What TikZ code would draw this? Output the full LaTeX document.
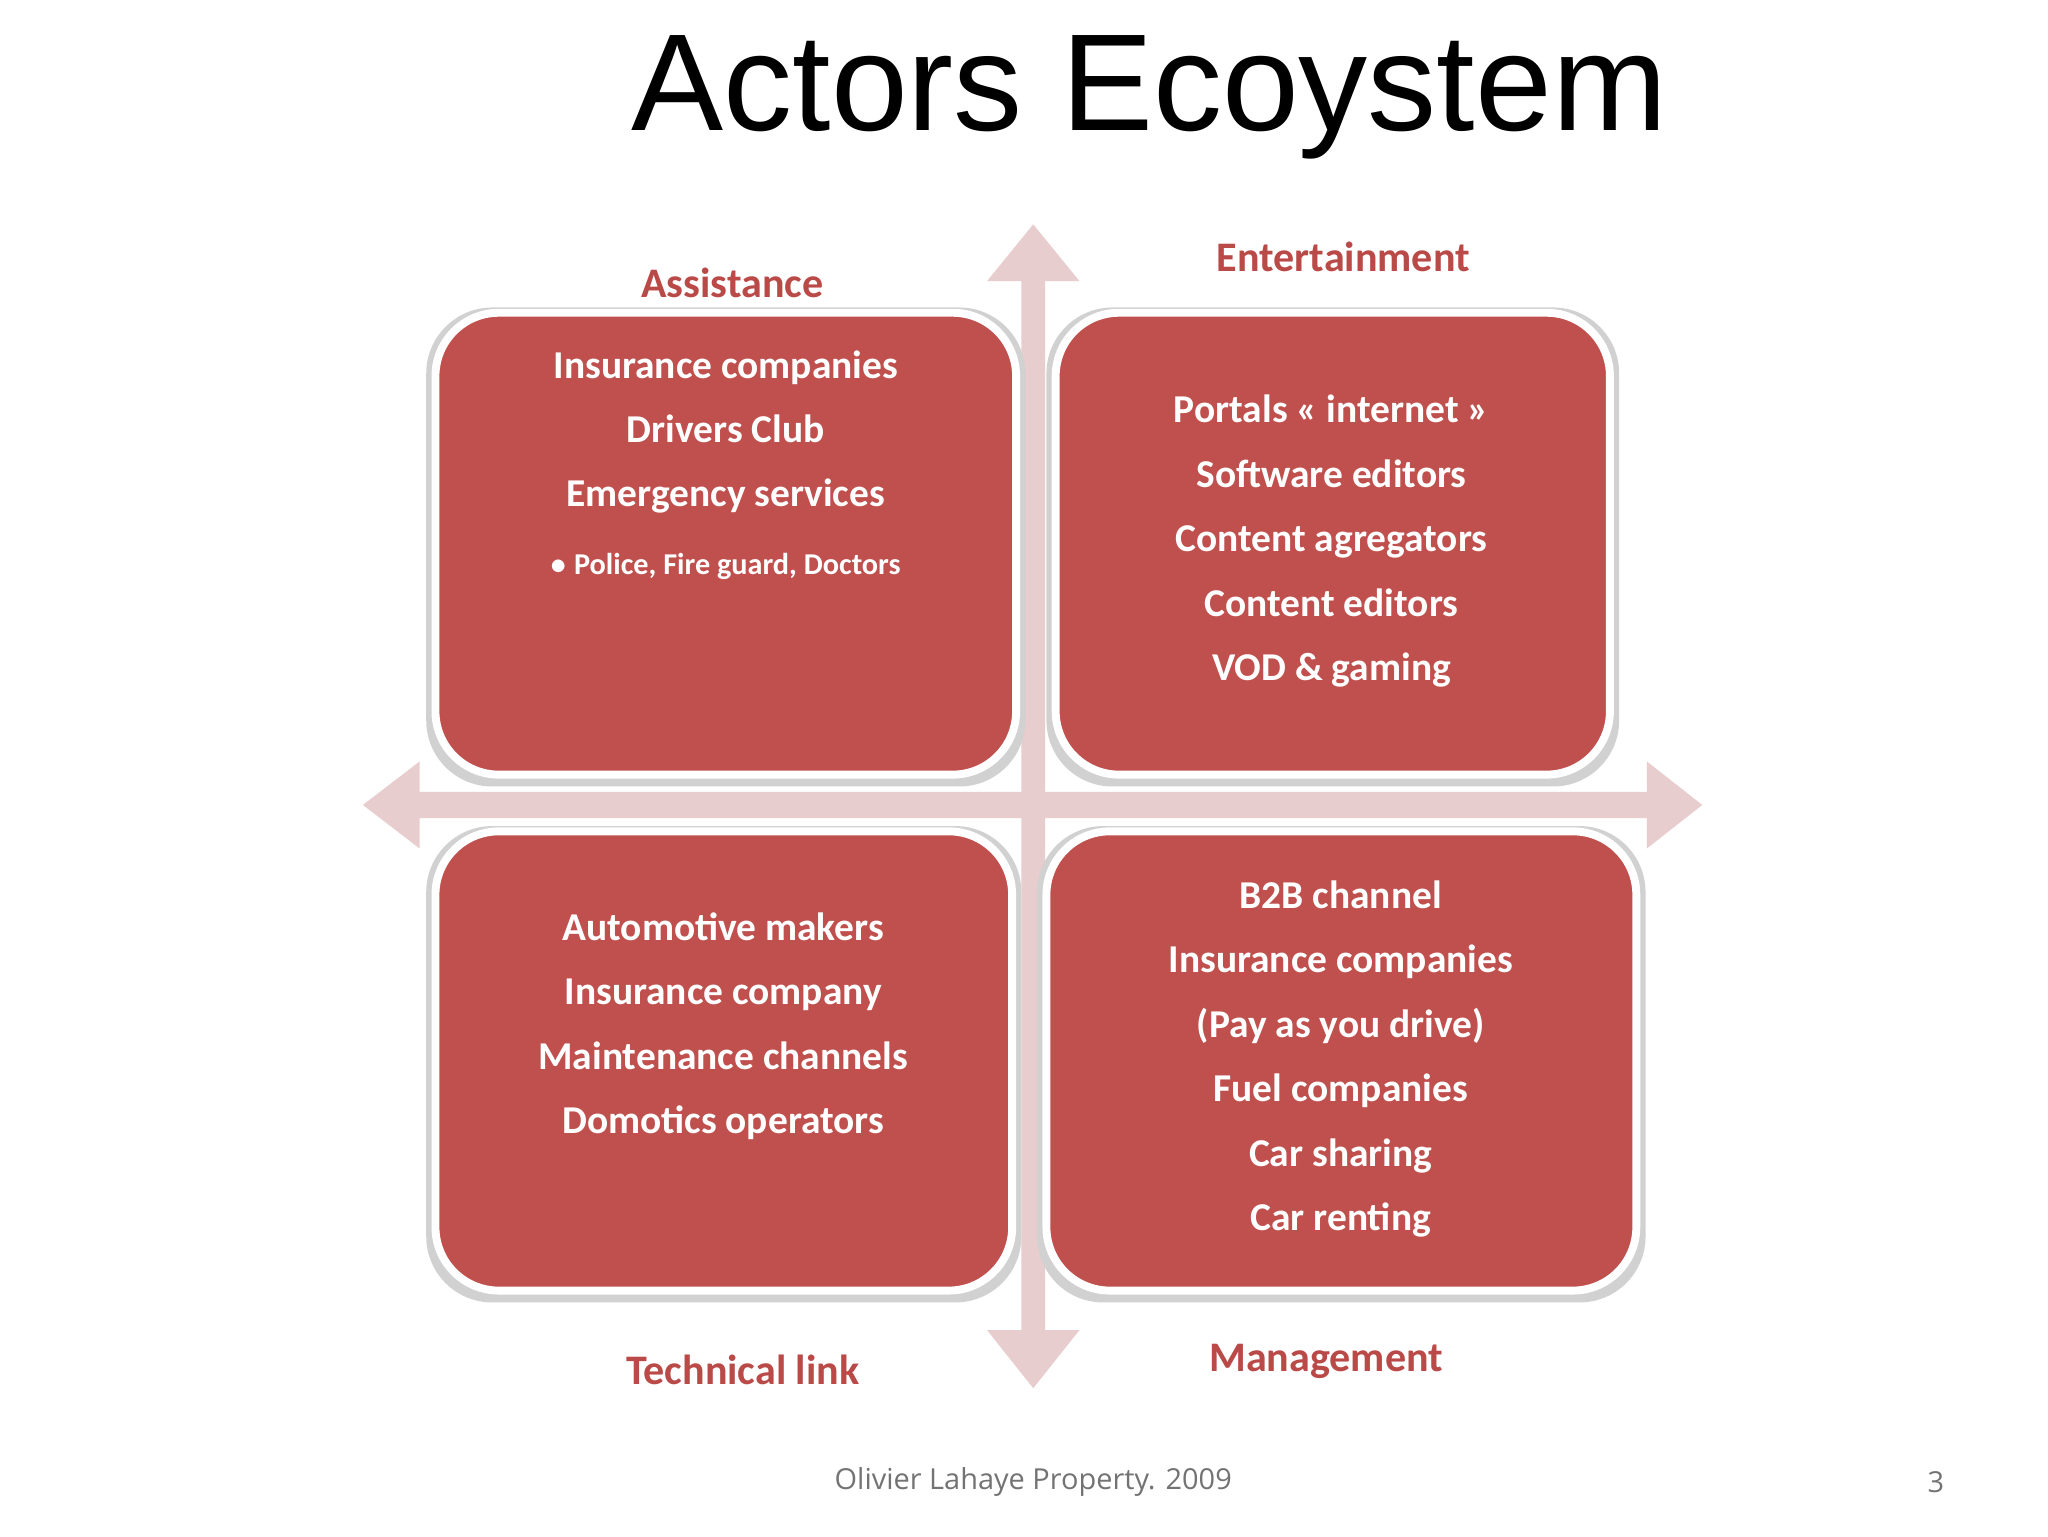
\documentclass[tikz,border=0pt]{standalone}
\usepackage{fontspec}
\setmainfont{Carlito}
\newfontfamily\titlefont{Liberation Sans}
\newfontfamily\footfont{Open Sans}
\definecolor{boxred}{HTML}{C0504D}
\definecolor{lab}{HTML}{BA4A47}
\definecolor{arr}{HTML}{E8CDCF}
\begin{document}
\begin{tikzpicture}[x=1bp,y=-1bp,
  quad/.style={draw=white,line width=6bp,fill=boxred,rounded corners=48bp,inner sep=0pt},
  shad/.style={fill=black!18,rounded corners=50bp},
  txt/.style={text=white,font=\bfseries\fontsize{30}{49}\selectfont,align=center},
  lbl/.style={text=lab,font=\bfseries\fontsize{32}{36}\selectfont}]
\useasboundingbox[fill=white] (0,0) rectangle (1552,1164);
% arrows
\fill[arr] (275,610)--(318,577)--(318,600)--(1248,600)--(1248,577)--(1290,610)--(1248,643)--(1248,620)--(318,620)--(318,643)--cycle;
\fill[arr] (783,170)--(818,213)--(792,213)--(792,1008)--(818,1008)--(783,1052)--(748,1008)--(774,1008)--(774,213)--(748,213)--cycle;
% shadows
\foreach \a/\b/\c/\d in {330/237/770/587, 800/237/1220/587, 330/630/767/978, 793/630/1240/978}
  \fill[shad] (\a-7,\b-4) rectangle (\c+7,\d+9);
\node[quad,minimum width=440bp,minimum height=350bp] (tl) at (550,412) {};
\node[quad,minimum width=420bp,minimum height=350bp] (tr) at (1010,412) {};
\node[quad,minimum width=437bp,minimum height=348bp] (bl) at (548.5,804) {};
\node[quad,minimum width=447bp,minimum height=348bp] (br) at (1016.5,804) {};
% texts
\node[txt,anchor=north] (tl1) at (550,262) {Insurance companies\\Drivers Club\\Emergency services};
\node[txt,anchor=base,font=\bfseries\fontsize{23}{28}\selectfont] (tl2) at (550,435) {$\bullet$\ Police, Fire guard, Doctors};
\node[txt,anchor=north] (trt) at (1009,296) {Portals « internet »\\Software editors\\Content agregators\\Content editors\\VOD \& gaming};
\node[txt,anchor=north] (blt) at (548,688) {Automotive makers\\Insurance company\\Maintenance channels\\Domotics operators};
\node[txt,anchor=north] (brt) at (1016,664) {B2B channel\\Insurance companies\\(Pay as you drive)\\Fuel companies\\Car sharing\\Car renting};
% labels
\node[lbl] (la) at (555,214) {Assistance};
\node[lbl] (le) at (1018,195) {Entertainment};
\node[lbl] (lt) at (563,1038) {Technical link};
\node[lbl] (lm) at (1005,1032) {Management};
\node[font=\titlefont\fontsize{105}{110}\selectfont] (title) at (871,74) {Actors Ecoystem};
\node[font=\footfont\fontsize{22}{26}\selectfont,text=black!55] (foot) at (783,1123) {Olivier Lahaye Property. 2009};
\node[font=\footfont\fontsize{22}{26}\selectfont,text=black!55] (pg) at (1467,1123) {3};
\end{tikzpicture}
\end{document}
